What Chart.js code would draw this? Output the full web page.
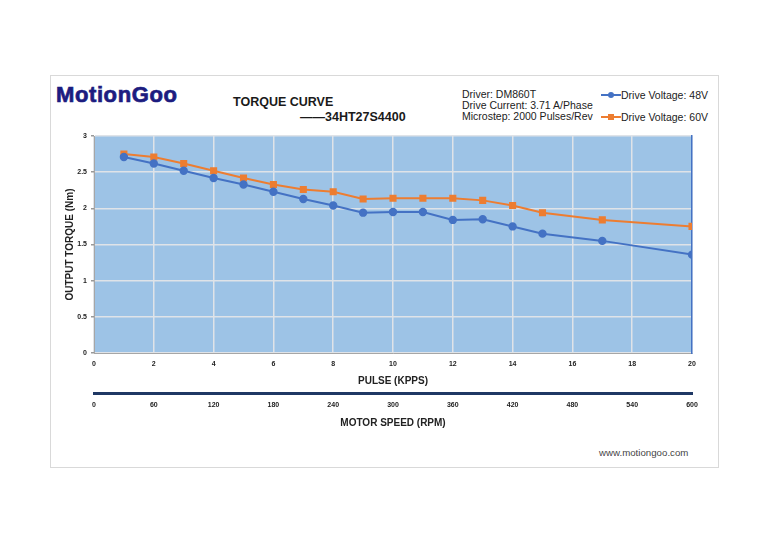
<!DOCTYPE html>
<html>
<head>
<meta charset="utf-8">
<script src="https://cdn.jsdelivr.net/npm/chart.js@4.4.1/dist/chart.umd.min.js"></script>
<style>
  body { margin: 0; background: #fff; font-family: 'Liberation Sans', Arial, sans-serif; }
  #page { position: relative; width: 768px; height: 543px; }
  #box { position: absolute; left: 50px; top: 75px; width: 667px; height: 391px; border: 1px solid #d9d9d9; }
  #chartWrap { position: absolute; left: 50px; top: 125px; width: 668px; height: 315px; }
  .txt { position: absolute; white-space: nowrap; color: #1a1a1a; }
  #logo { left: 56px; top: 82px; font-size: 22px; font-weight: bold; color: #1c1c80; letter-spacing: 0.6px; -webkit-text-stroke: 0.7px #1c1c80; }
  #title1 { left: 233px; top: 95px; font-size: 12.5px; font-weight: bold; }
  #title2 { left: 300px; top: 110px; font-size: 12.5px; font-weight: bold; }
  #info { left: 462px; top: 89px; font-size: 10.5px; line-height: 11px; color: #222; }
  .leg { position: absolute; left: 601px; font-size: 10.5px; color: #222; white-space: nowrap; }
  .leg .ln { display: inline-block; position: relative; width: 20px; height: 2px; vertical-align: middle; top: -1px; }
  .leg .mk { position: absolute; left: 7px; top: -2px; width: 6px; height: 6px; }
  #site { left: 599px; top: 447px; font-size: 9.7px; color: #444; }
</style>
</head>
<body>
<div id="page">
  <div id="box"></div>
  <div class="txt" id="logo">MotionGoo</div>
  <div class="txt" id="title1">TORQUE CURVE</div>
  <div class="txt" id="title2">——34HT27S4400</div>
  <div class="txt" id="info">Driver: DM860T<br>Drive Current: 3.71 A/Phase<br>Microstep: 2000 Pulses/Rev</div>
  <div class="leg" style="top:89px"><span class="ln" style="background:#4472c4"><span class="mk" style="background:#4472c4;border-radius:50%"></span></span>Drive Voltage: 48V</div>
  <div class="leg" style="top:111px"><span class="ln" style="background:#ed7d31"><span class="mk" style="background:#ed7d31"></span></span>Drive Voltage: 60V</div>
  <div id="chartWrap"><canvas id="torqueChart"></canvas></div>
  <div class="txt" id="site">www.motiongoo.com</div>
</div>
<script>
// data
const pulseKpps = [1, 2, 3, 4, 5, 6, 7, 8, 9, 10, 11, 12, 13, 14, 15, 17, 20];
const torque48V = [2.71, 2.62, 2.52, 2.42, 2.33, 2.23, 2.13, 2.04, 1.94, 1.95, 1.95, 1.84, 1.85, 1.75, 1.65, 1.55, 1.36];
const torque60V = [2.75, 2.71, 2.62, 2.52, 2.42, 2.33, 2.26, 2.23, 2.13, 2.14, 2.14, 2.14, 2.11, 2.04, 1.94, 1.84, 1.75];
const pulseRange = [0, 20];
const speedRange = [0, 600];
const torqueRange = [0, 3];

const tickFont = { family: "'Liberation Sans Narrow', 'Liberation Sans', sans-serif", size: 7, weight: 'bold' };
const titleFont = { family: "'Liberation Sans', Arial, sans-serif", size: 10, weight: 'bold' };

const toPoints = (xs, ys) => xs.map((x, i) => ({ x: x, y: ys[i] }));
const plainNum = (v) => String(v);

// paint plot area background
const plotBg = {
  id: 'plotBg',
  beforeDraw: (chart) => {
    const { ctx, chartArea: a } = chart;
    ctx.save();
    ctx.fillStyle = '#9dc3e6';
    ctx.fillRect(a.left, a.top, a.right - a.left, a.bottom - a.top);
    ctx.restore();
  }
};

document.addEventListener('DOMContentLoaded', () => {
  const ctx = document.getElementById('torqueChart');
  new Chart(ctx, {
    type: 'line',
    data: {
      datasets: [
        {
          label: 'Drive Voltage: 48V',
          data: toPoints(pulseKpps, torque48V),
          borderColor: '#4472c4',
          backgroundColor: '#4472c4',
          borderWidth: 2,
          pointStyle: 'circle',
          pointRadius: 3.2,
          tension: 0,
          xAxisID: 'x',
          yAxisID: 'y'
        },
        {
          label: 'Drive Voltage: 60V',
          data: toPoints(pulseKpps, torque60V),
          borderColor: '#ed7d31',
          backgroundColor: '#ed7d31',
          borderWidth: 2,
          pointStyle: 'rect',
          pointRadius: 3.6,
          tension: 0,
          xAxisID: 'x',
          yAxisID: 'y'
        }
      ]
    },
    options: {
      responsive: true,
      maintainAspectRatio: false,
      animation: false,
      layout: { padding: { left: 0, right: 26, top: 11, bottom: 11 } },
      plugins: {
        legend: { display: false },
        tooltip: { enabled: false }
      },
      scales: {
        x: {
          type: 'linear',
          position: 'bottom',
          min: pulseRange[0],
          max: pulseRange[1],
          ticks: { stepSize: 2, font: tickFont, color: '#222', padding: 4, maxRotation: 0, callback: plainNum },
          grid: { color: '#dfe3e8', lineWidth: 1.5, drawTicks: true, tickLength: 3, tickColor: 'rgba(0,0,0,0)' },
          border: { color: '#a6a6a6', width: 1 },
          title: { display: true, text: 'PULSE (KPPS)', font: titleFont, color: '#222', padding: { top: 0, bottom: 6 } },
          afterFit: (s) => { s.height = 40; }
        },
        x2: {
          type: 'linear',
          position: 'bottom',
          min: speedRange[0],
          max: speedRange[1],
          ticks: { stepSize: 60, font: tickFont, color: '#222', padding: 8, maxRotation: 0, callback: plainNum },
          grid: { drawOnChartArea: false, drawTicks: false },
          border: { color: '#1f3864', width: 3 },
          title: { display: true, text: 'MOTOR SPEED (RPM)', font: titleFont, color: '#222', padding: { top: 0, bottom: 0 } },
          afterFit: (s) => { s.height = 36; }
        },
        y: {
          type: 'linear',
          position: 'left',
          min: torqueRange[0],
          max: torqueRange[1],
          ticks: { stepSize: 0.5, font: tickFont, color: '#222', padding: 4, callback: plainNum },
          grid: { color: '#dfe3e8', lineWidth: 1.5, drawTicks: true, tickLength: 3, tickColor: '#999' },
          border: { color: '#a6a6a6', width: 1 },
          title: { display: true, text: 'OUTPUT TORQUE (Nm)', font: titleFont, color: '#222', padding: { top: 14, bottom: 0 } },
          afterFit: (s) => { s.width = 44; }
        },
        yR: {
          type: 'linear',
          position: 'right',
          min: torqueRange[0],
          max: torqueRange[1],
          ticks: { display: false },
          grid: { drawOnChartArea: false, drawTicks: false },
          border: { color: '#4472c4', width: 1.5 },
          afterFit: (s) => { s.width = 0; }
        }
      }
    },
    plugins: [plotBg]
  });
});
</script>
</body>
</html>
